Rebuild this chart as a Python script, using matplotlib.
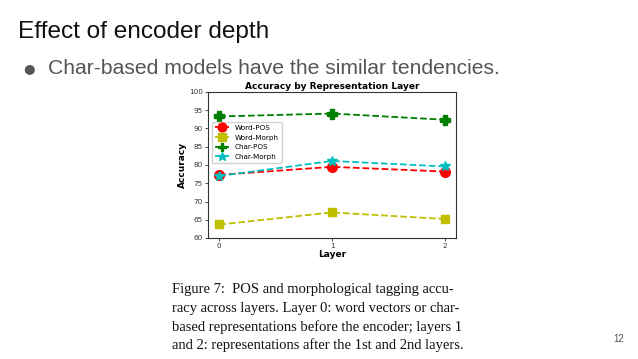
import matplotlib
matplotlib.use('Agg')
import matplotlib.pyplot as plt

# ── Data ──
layers = [0, 1, 2]
word_pos = [77.3, 79.5, 78.2]
word_morph = [63.7, 67.0, 65.2]
char_pos = [93.3, 94.1, 92.4]
char_morph = [77.0, 81.1, 79.6]

title = 'Effect of encoder depth'
bullet = 'Char-based models have the similar tendencies.'
caption = [
    'Figure 7:  POS and morphological tagging accu-',
    'racy across layers. Layer 0: word vectors or char-',
    'based representations before the encoder; layers 1',
    'and 2: representations after the 1st and 2nd layers.',
]

W, H = 638, 359
fig = plt.figure(figsize=(W / 100, H / 100), dpi=100)
fig.patch.set_facecolor('white')

# slide text
fig.text(18 / W, 1 - 32 / H, title, fontsize=17.6, color='#111111',
         family='Liberation Sans', va='center', ha='left')
fig.text(23 / W, 1 - 69 / H, '\u25cf', fontsize=9.5, color='#555555',
         family='DejaVu Sans', va='center', ha='left')
fig.text(48 / W, 1 - 68 / H, bullet, fontsize=15.2, color='#555555',
         family='Liberation Sans', va='center', ha='left')
fig.text(619 / W, 1 - 339 / H, '12', fontsize=7, color='#555555',
         family='Liberation Sans', va='center', ha='center')

for i, line in enumerate(caption):
    fig.text(172 / W, 1 - (290 + i * 18.5) / H, line, fontsize=10.55,
             color='#111111', family='Liberation Serif', va='center', ha='left')

# ── Chart ──
ax = fig.add_axes([208 / W, 1 - 238 / H, (456 - 208) / W, (238 - 92) / H])
ax.plot(layers, word_pos, 'r--', marker='o', ms=7, lw=1.3, label='Word-POS')
ax.plot(layers, word_morph, 'y--', marker='s', ms=6, lw=1.3, label='Word-Morph')
ax.plot(layers, char_pos, 'g--', marker='P', ms=7, lw=1.3, label='Char-POS')
ax.plot(layers, char_morph, 'c--', marker='*', ms=7, lw=1.3, label='Char-Morph')

ax.set_xlim(-0.1, 2.1)
ax.set_ylim(60, 100)
ax.set_xticks(layers)
ax.set_yticks(range(60, 101, 5))
ax.tick_params(labelsize=5.2, length=2, width=0.5, pad=1.5, labelcolor='#333333')
for s in ax.spines.values():
    s.set_linewidth(0.8)
    s.set_color('#333333')
ax.set_title('Accuracy by Representation Layer', fontsize=6.5, fontweight='bold', pad=2)
ax.set_xlabel('Layer', fontsize=6.5, fontweight='bold', labelpad=1)
ax.set_ylabel('Accuracy', fontsize=6.5, fontweight='bold', labelpad=2)
ax.legend(loc='upper left', bbox_to_anchor=(0.0, 0.82), fontsize=5.2,
          handlelength=2.0, labelspacing=0.5, borderpad=0.4, framealpha=0.9,
          markerscale=0.9)

plt.savefig('out.png', dpi=100)
